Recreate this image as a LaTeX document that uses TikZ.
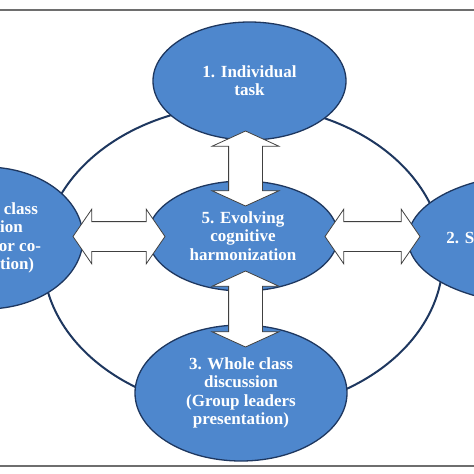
\documentclass[tikz,border=0pt]{standalone}
\usepackage{fontspec}
\setmainfont{Liberation Serif}
\usetikzlibrary{shapes.geometric,shapes.arrows}

\definecolor{stageblue}{RGB}{78,135,205}
\definecolor{stageline}{RGB}{30,55,95}

\tikzset{
  stage/.style={ellipse, draw=stageline, line width=1.3pt, fill=stageblue, inner sep=0pt,
    text=white, align=center, font=\fontsize{17}{18.3}\selectfont\bfseries},
  link/.style={double arrow, draw=black!75, line width=0.8pt, fill=white, inner xsep=0pt,
    double arrow head indent=0pt},
  vlink/.style={link, rotate=90, inner ysep=16.5pt, double arrow head extend=16.5pt,
    double arrow tip angle=131},
  hlink/.style={link, inner ysep=14.5pt, double arrow head extend=12.5pt,
    double arrow tip angle=111},
}

\begin{document}
\begin{tikzpicture}[x=1pt, y=-1pt]
    \useasboundingbox (0,0) rectangle (474,474);
    \clip (0,0) rectangle (474,474);
    % frame lines
    \draw[black!57, line width=2.4pt] (0,10) -- (474,10);
    \draw[black!57, line width=2.4pt] (0,466) -- (474,466);
    % outer cycle
    \node   (ring) [ellipse, draw=stageline, line width=2pt, minimum width=400pt, minimum height=306pt] at (243,258) {};
    % stages
    \node   (5) [stage, minimum width=190pt, minimum height=110pt] at (243,236) {5. Evolving\\cognitive\\harmonization};
    \node   (1) [stage, node distance=155pt, above of = 5, xshift=6.5pt, minimum width=193pt, minimum height=118pt] {1. Individual\\task};
    \node   (3) [stage, node distance=157pt, below of = 5, xshift=-2pt, minimum width=212pt, minimum height=136pt] {3. Whole class\\discussion\\(Group leaders\\presentation)};
    \node   (4) [stage, node distance=257pt, left of = 5, yshift=-2pt, minimum width=194pt, minimum height=142pt] {4. Whole class\\discussion\\(Teacher or co-\\construction)};
    \node   (2) [stage, node distance=296pt, right of = 5, yshift=-3pt, minimum width=262pt, minimum height=130pt] {2. Small group discussion};
    % links to the centre
    \node   (a1) [vlink, minimum height=75pt] at (245.5,168.5) {};
    \node   (a3) [vlink, minimum height=76pt] at (245.5,309) {};
    \node   (a4) [hlink, minimum height=92pt] at (119,236.5) {};
    \node   (a2) [hlink, minimum height=95pt] at (372.5,236.5) {};
\end{tikzpicture}
\end{document}
